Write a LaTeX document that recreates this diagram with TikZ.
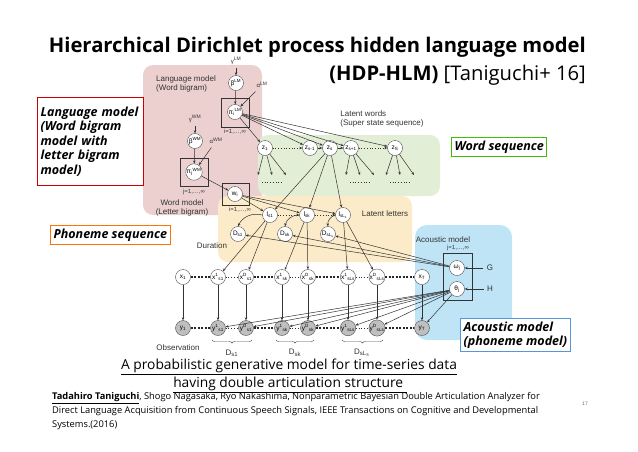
\documentclass[tikz,border=0pt]{standalone}
\usepackage{fontspec}
\setmainfont{Liberation Sans}
\newfontfamily\titlefont{Open Sans}
\usetikzlibrary{arrows.meta,decorations.pathreplacing}
\definecolor{pinkbg}{RGB}{236,208,208}
\definecolor{greenbg}{RGB}{226,239,214}
\definecolor{yellowbg}{RGB}{252,235,200}
\definecolor{bluebg}{RGB}{190,228,246}
\newcommand{\Sup}[1]{\textsuperscript{#1}}
\newcommand{\Sub}[1]{\textsubscript{#1}}
\begin{document}
\begin{tikzpicture}[x=1pt,y=-1pt,
  nd/.style={circle,draw=black!70,fill=white,minimum size=15,inner sep=0,font=\fontsize{6.5}{7}\selectfont},
  obs/.style={nd,fill=black!25},
  ar/.style={-{Stealth[length=3pt,width=2.5pt]},draw=black!80,line width=0.5pt},
  lbl/.style={font=\fontsize{8}{9}\selectfont,text=black!80,align=left},
  sml/.style={font=\fontsize{6}{6}\selectfont,text=black!80},
  plate/.style={draw=black!80,line width=0.6pt},
  call/.style={draw,line width=1.2pt,fill=white,font=\titlefont\bfseries\itshape\fontsize{12.5}{14.5}\selectfont,align=left,inner sep=3pt},
  dl/.style={line width=0.7pt,dotted,black!80},
  bl/.style={line width=1.6pt,dash pattern=on 2pt off 1.5pt,black!85}]
\useasboundingbox (0,0) rectangle (638,451);
% title
\node[font=\titlefont\bfseries\fontsize{20.2}{22}\selectfont,anchor=east,inner sep=0] (t1) at (586,47) {Hierarchical Dirichlet process hidden language model};
\node[font=\titlefont\fontsize{20.2}{22}\selectfont,anchor=east,inner sep=0] (t2) at (586,75) {\textbf{(HDP-HLM)} [Taniguchi+ 16]};
% regions
\fill[rounded corners=10,fill=pinkbg] (143,65) rectangle (262,215);
\fill[rounded corners=10,fill=greenbg] (258,135) rectangle (440,196);
\fill[rounded corners=10,fill=yellowbg] (218,196) rectangle (412,262);
\fill[rounded corners=12,fill=bluebg] (415,225) rectangle (512,340);
% language model
\node[lbl] (lmlab) at (186,84) {Language model\\(Word bigram)};
\node[sml] (gLM) at (236,61) {γ\Sup{LM}};
\node[nd] (bLM) at (236,83) {β\Sup{LM}};
\node[sml] (aLM) at (262,85) {α\Sup{LM}};
\draw[plate] (221,98) rectangle (249,127);
\node[nd] (pLM) at (235,112) {π\Sub{i}\Sup{LM}};
\node[sml] (iLM) at (235,132) {i=1,…,∞};
\node[sml] (gWM) at (195,119) {γ\Sup{WM}};
\node[nd] (bWM) at (195,141) {β\Sup{WM}};
\node[sml] (aWM) at (216,141) {α\Sup{WM}};
\draw[plate] (180,158) rectangle (208,186);
\node[nd] (pWM) at (194,172) {π\Sub{j}\Sup{WM}};
\node[sml] (jWM) at (194,192) {j=1,…,∞};
\node[lbl,align=center] (wmlab) at (182,208) {Word model\\(Letter bigram)};
\draw[plate] (222,183) rectangle (249,205);
\node[nd] (wi) at (235,194) {w\Sub{i}};
\node[sml] (iw) at (240,210) {i=1,…,∞};
\draw[ar] (gLM) -- (bLM); \draw[ar] (bLM) -- (pLM); \draw[ar] (aLM) -- (pLM);
\draw[ar] (gWM) -- (bWM); \draw[ar] (bWM) -- (pWM); \draw[ar] (aWM) -- (pWM);
\draw[ar] (pWM) -- (wi);
% latent words
\node[lbl] (lw) at (382,119) {Latent words\\(Super state sequence)};
\node[nd] (z1) at (265,148) {z\Sub{1}};
\node[nd] (zs1) at (310,148) {z\Sub{s-1}};
\node[nd] (zs) at (330,148) {z\Sub{s}};
\node[nd] (zs2) at (351,148) {z\Sub{s+1}};
\node[nd] (zS) at (395,148) {z\Sub{S}};
\draw[ar,dl] (z1) -- (zs1); \draw[ar] (zs1) -- (zs); \draw[ar] (zs) -- (zs2); \draw[ar,dl] (zs2) -- (zS);
\foreach \z in {z1,zs1,zs,zs2,zS} \draw[ar] (pLM) -- (\z);
\foreach \z/\cx in {z1/272,zs2/360,zS/400}{
  \foreach \d in {-1,0,1} {\coordinate (\z e\d) at (\cx+\d*14,175); \draw[ar] (\z) -- (\z e\d);}
  \draw[dl] (\cx-10,182) -- (\cx+10,182);}
% latent letters
\node[lbl] (ll) at (385,214) {Latent letters};
\node[nd] (l1) at (270,215) {l\Sub{s1}};
\node[nd] (lk) at (307,215) {l\Sub{sk}};
\node[nd] (lL) at (343,215) {l\Sub{sL\Sub{s}}};
\draw[ar,dl] (l1) -- (lk); \draw[ar,dl] (lk) -- (lL);
\foreach \l in {l1,lk,lL}{\draw[ar] (wi) -- (\l); \draw[ar] (zs) -- (\l);}
\node[nd] (d1) at (238,234) {D\Sub{s1}};
\node[nd] (dk) at (285,234) {D\Sub{sk}};
\node[nd] (dL) at (328,234) {D\Sub{sL\Sub{s}}};
\draw[ar] (l1.west) to[bend right=40] (d1.north);
\draw[ar] (lk.west) to[bend right=40] (dk.north);
\draw[ar] (lL.west) to[bend right=40] (dL.north);
\node[lbl] (dur) at (212,246) {Duration};
% acoustic model
\node[lbl] (am) at (443,240) {Acoustic model};
\draw[plate] (443,253) rectangle (472,300);
\node[sml] (jam) at (458,248) {j=1,…,∞};
\node[nd] (om) at (457,268) {ω\Sub{j}};
\node[nd] (th) at (457,289) {θ\Sub{j}};
\node[lbl] (G) at (490,268) {G};
\node[lbl] (H) at (490,289) {H};
\draw[ar] (G) -- (om); \draw[ar] (H) -- (th);
\foreach \d in {d1,dk,dL} \draw[ar] (om) -- (\d);
% x and y rows
\foreach \n/\xx/\t in {x1/183/{x\Sub{1}},xa/218/{x\Sup{1}\Sub{s1}},xb/246/{x\Sup{D}\Sub{s1}},xc/282/{x\Sup{1}\Sub{sk}},xd/308/{x\Sup{D}\Sub{sk}},xe/348/{x\Sup{1}\Sub{sLs}},xf/377/{x\Sup{D}\Sub{sLs}},xT/422/{x\Sub{T}}}{
  \node[nd] (\n) at (\xx,277) {\t};}
\foreach \n/\xx/\t in {y1/183/{y\Sub{1}},ya/218/{y\Sup{1}\Sub{s1}},yb/246/{y\Sup{D}\Sub{s1}},yc/282/{y\Sup{1}\Sub{sk}},yd/308/{y\Sup{D}\Sub{sk}},ye/348/{y\Sup{1}\Sub{sLs}},yf/377/{y\Sup{D}\Sub{sLs}},yT/422/{y\Sub{T}}}{
  \node[obs] (\n) at (\xx,328) {\t};}
\foreach \a/\b in {x1/xa,xb/xc,xd/xe,xf/xT,y1/ya,yb/yc,yd/ye,yf/yT} \draw[bl] (\a) -- (\b);
\foreach \a/\b in {xa/xb,xc/xd,xe/xf,ya/yb,yc/yd,ye/yf} \draw[dl] (\a) -- (\b);
\foreach \a/\b in {x1/y1,xa/ya,xb/yb,xc/yc,xd/yd,xe/ye,xf/yf,xT/yT} \draw[ar] (\a) -- (\b);
\foreach \l/\p/\q in {l1/xa/xb,lk/xc/xd,lL/xe/xf}{\draw[ar] (\l) -- (\p); \draw[ar] (\l) -- (\q);}
\foreach \y in {ya,yb,yc,yd,ye,yf,yT} \draw[ar] (th) -- (\y);
\node[lbl] (obsl) at (178,348) {Observation};
\draw[decorate,decoration={brace,amplitude=3pt,mirror},black!70] (212,340) -- (252,340);
\draw[decorate,decoration={brace,amplitude=3pt,mirror},black!70] (276,340) -- (314,340);
\draw[decorate,decoration={brace,amplitude=3pt,mirror},black!70] (342,340) -- (383,340);
\node[lbl] (b1) at (232,353) {D\Sub{s1}};
\node[lbl] (b2) at (295,353) {D\Sub{sk}};
\node[lbl] (b3) at (362,353) {D\Sub{sL\Sub{s}}};
% callouts
\node[call,draw=red!80!black,anchor=north west,text width=100pt,minimum height=88pt] (c1) at (37,97) {Language model\\(Word bigram\\model with\\letter bigram\\model)};
\node[call,draw=green!50!olive,anchor=north west] (c2) at (451,137) {Word sequence};
\node[call,draw=orange!90!red,anchor=north west] (c3) at (50,225) {Phoneme sequence};
\node[call,draw=cyan!60!blue!70,anchor=north west] (c4) at (460,318) {Acoustic model\\(phoneme model)};
% bottom text
\node[font=\titlefont\fontsize{13.8}{16}\selectfont,inner sep=0] (s1) at (289,367) {\underline{A probabilistic generative model for time-series data}};
\node[font=\titlefont\fontsize{13.8}{16}\selectfont,inner sep=0] (s2) at (290,385) {\underline{having double articulation structure\ }};
\node[font=\titlefont\fontsize{9.3}{14}\selectfont,anchor=north west,text width=512pt,align=flush left,inner sep=0] (cit) at (52,392) {\textbf{\underline{Tadahiro Taniguchi}}, Shogo Nagasaka, Ryo Nakashima, Nonparametric Bayesian Double Articulation Analyzer for Direct Language Acquisition from Continuous Speech Signals, IEEE Transactions on Cognitive and Developmental Systems.(2016)};
\node[font=\fontsize{5}{5}\selectfont,text=black!60] (pg) at (585,404) {17};
\end{tikzpicture}
\end{document}
